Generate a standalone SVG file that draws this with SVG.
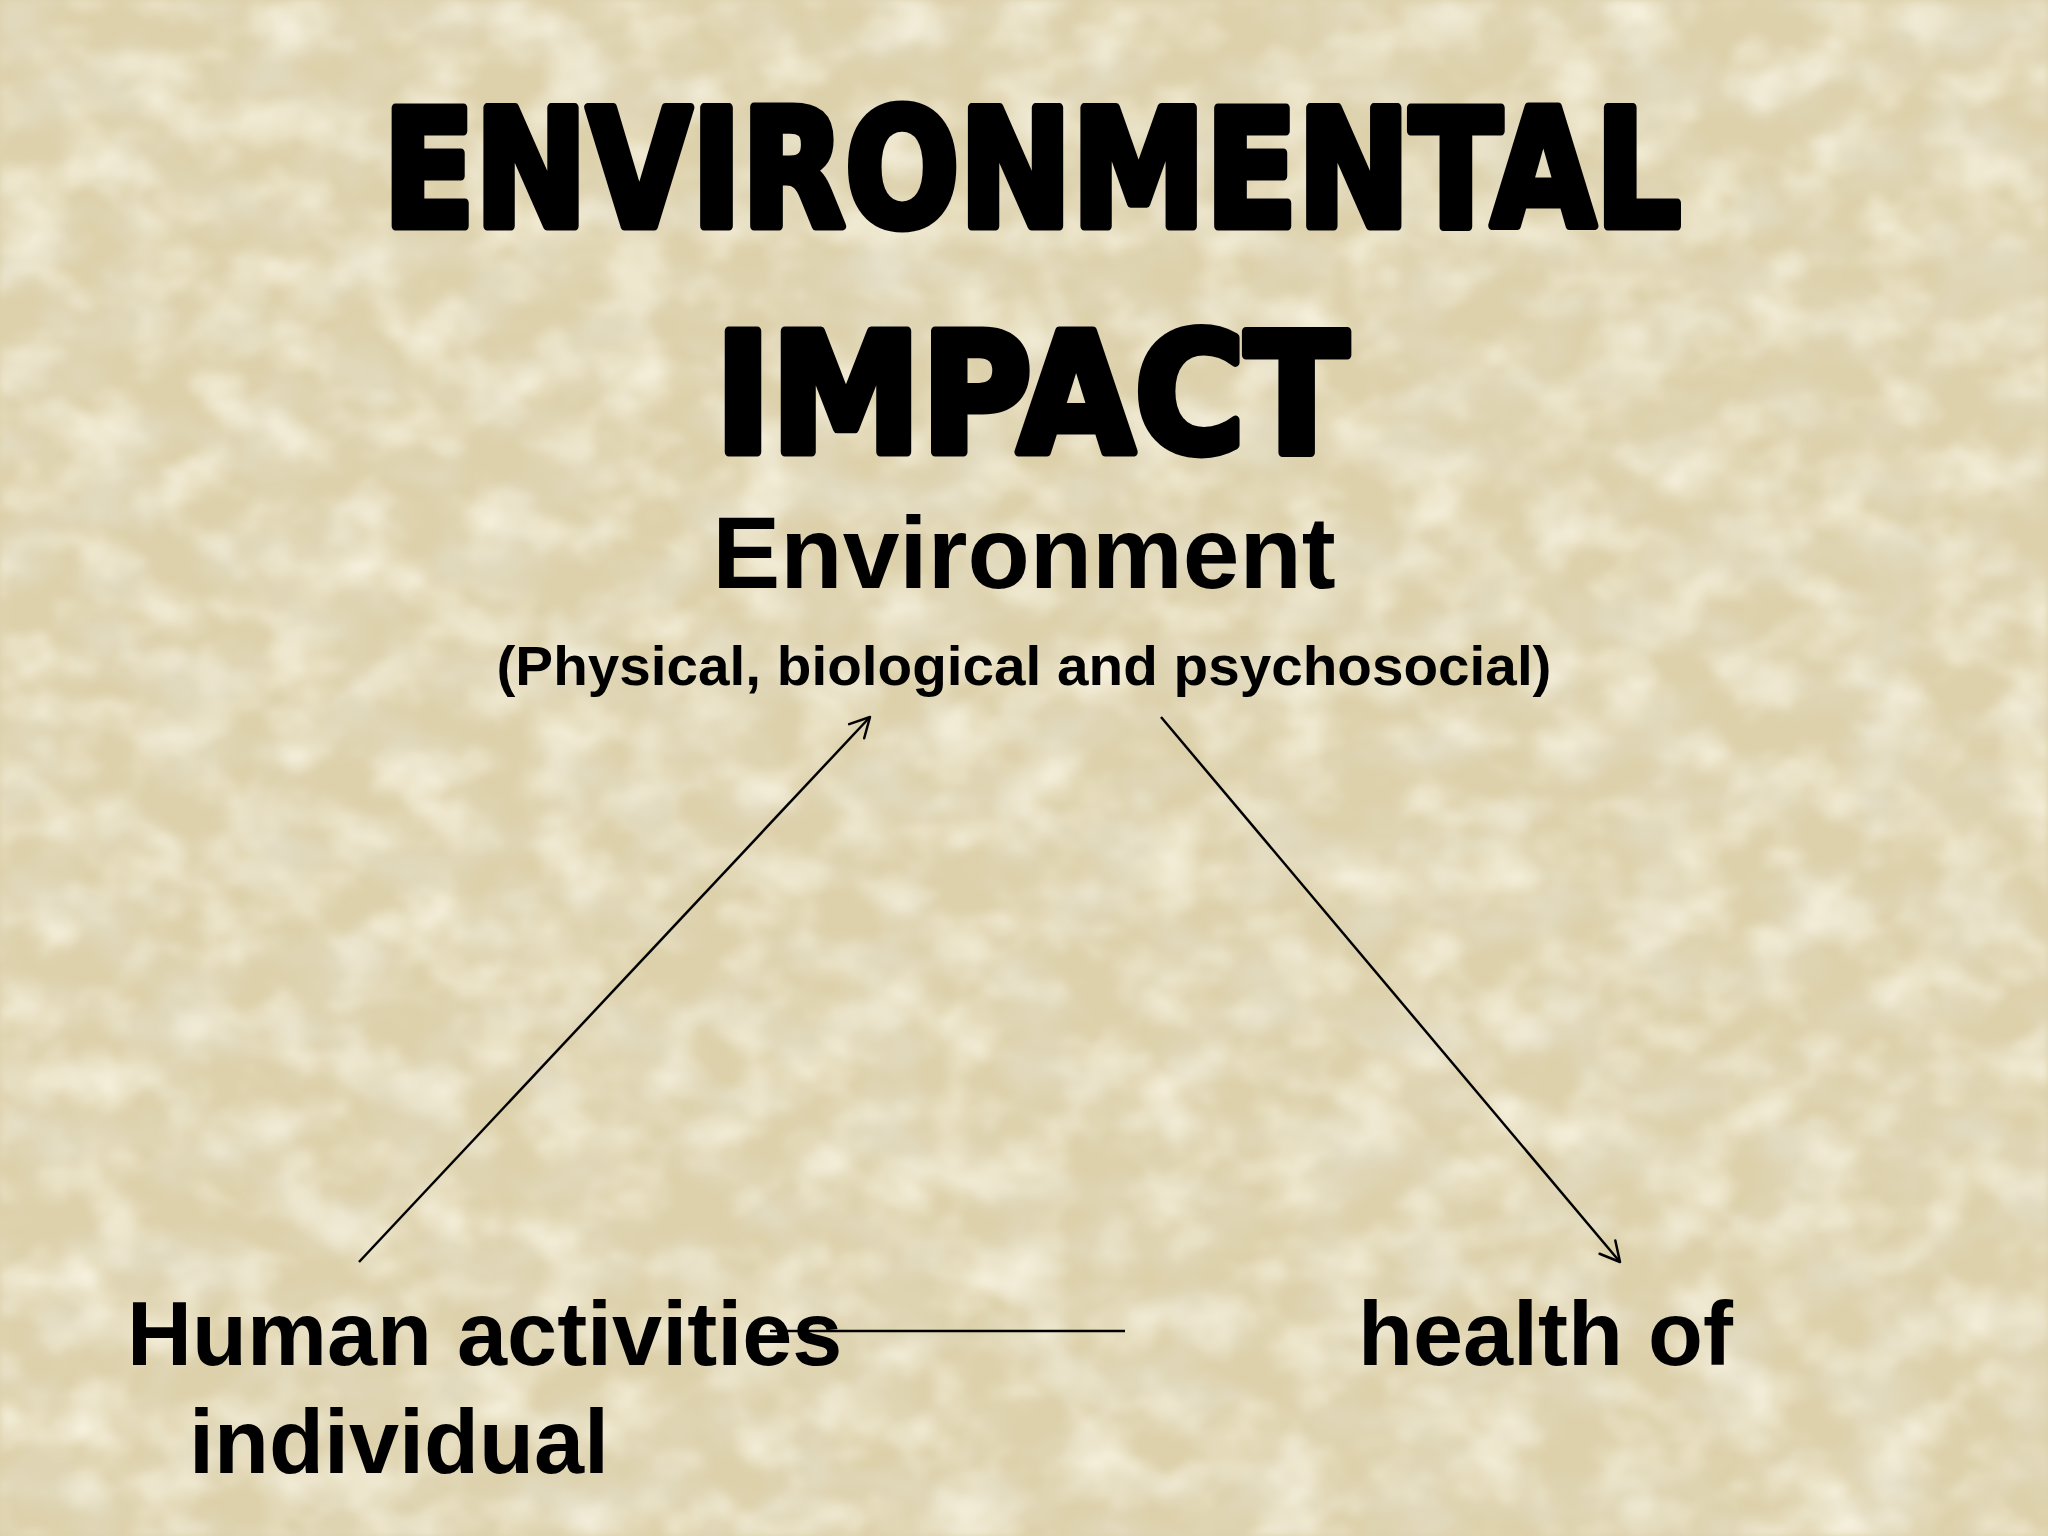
<svg xmlns="http://www.w3.org/2000/svg" width="2048" height="1536" viewBox="0 0 2048 1536">
  <defs>
    <filter id="texDark" x="0" y="0" width="2048" height="1536" filterUnits="userSpaceOnUse">
      <feTurbulence type="fractalNoise" baseFrequency="0.013 0.017" numOctaves="3" seed="11" result="n"/>
      <feColorMatrix in="n" type="matrix" values="0 0 0 0 0.77  0 0 0 0 0.72  0 0 0 0 0.56  2 0 0 0 -0.8"/>
      <feGaussianBlur stdDeviation="3"/>
    </filter>
    <filter id="texLight" x="0" y="0" width="2048" height="1536" filterUnits="userSpaceOnUse">
      <feTurbulence type="fractalNoise" baseFrequency="0.015 0.02" numOctaves="3" seed="29" result="n"/>
      <feColorMatrix in="n" type="matrix" values="0 0 0 0 0.94  0 0 0 0 0.90  0 0 0 0 0.76  2 0 0 0 -0.85"/>
      <feGaussianBlur stdDeviation="3"/>
    </filter>
    <marker id="arrow" markerUnits="userSpaceOnUse" viewBox="0 0 24 24" refX="22" refY="12" markerWidth="24" markerHeight="24" orient="auto">
      <path d="M2.5,1.7 L22,12 L2.5,22.3" fill="none" stroke="#000" stroke-width="2.5" stroke-linecap="round" stroke-linejoin="round"/>
    </marker>
    <style>
      .title { font-family: "DejaVu Sans", "Liberation Sans", sans-serif; font-weight: 900; fill: #000; stroke: #000; stroke-width: 9; stroke-linejoin: round; }
      .lbl { font-family: "Liberation Sans", Arial, sans-serif; font-weight: bold; fill: #000; }
      .conn { stroke: #000; stroke-width: 2.5; fill: none; }
    </style>
  </defs>

  <g id="background">
    <rect x="0" y="0" width="2048" height="1536" fill="#ddd1ab"/>
    <rect x="0" y="0" width="2048" height="1536" fill="#000" filter="url(#texDark)"/>
    <rect x="0" y="0" width="2048" height="1536" fill="#000" filter="url(#texLight)"/>
  </g>

  <g id="title">
    <text class="title" x="383" y="226" font-size="163" textLength="1298" lengthAdjust="spacingAndGlyphs">ENVIRONMENTAL</text>
    <text class="title" x="715" y="452" font-size="166" textLength="633" lengthAdjust="spacingAndGlyphs">IMPACT</text>
  </g>

  <g id="connectors">
    <line class="conn" x1="359" y1="1262" x2="870" y2="717" marker-end="url(#arrow)"/>
    <line class="conn" x1="1161" y1="717" x2="1620" y2="1262" marker-end="url(#arrow)"/>
    <line class="conn" x1="770" y1="1331" x2="1125" y2="1331"/>
  </g>

  <g id="node-environment">
    <text class="lbl" x="1024" y="588" font-size="102" text-anchor="middle">Environment</text>
    <text class="lbl" x="1024" y="685" font-size="56" text-anchor="middle" textLength="1055" lengthAdjust="spacingAndGlyphs">(Physical, biological and psychosocial)</text>
  </g>

  <g id="node-human">
    <text class="lbl" x="127" y="1365" font-size="90">Human activities</text>
    <text class="lbl" x="189" y="1473" font-size="90">individual</text>
  </g>

  <g id="node-health">
    <text class="lbl" x="1358" y="1365" font-size="90">health of</text>
  </g>
</svg>
